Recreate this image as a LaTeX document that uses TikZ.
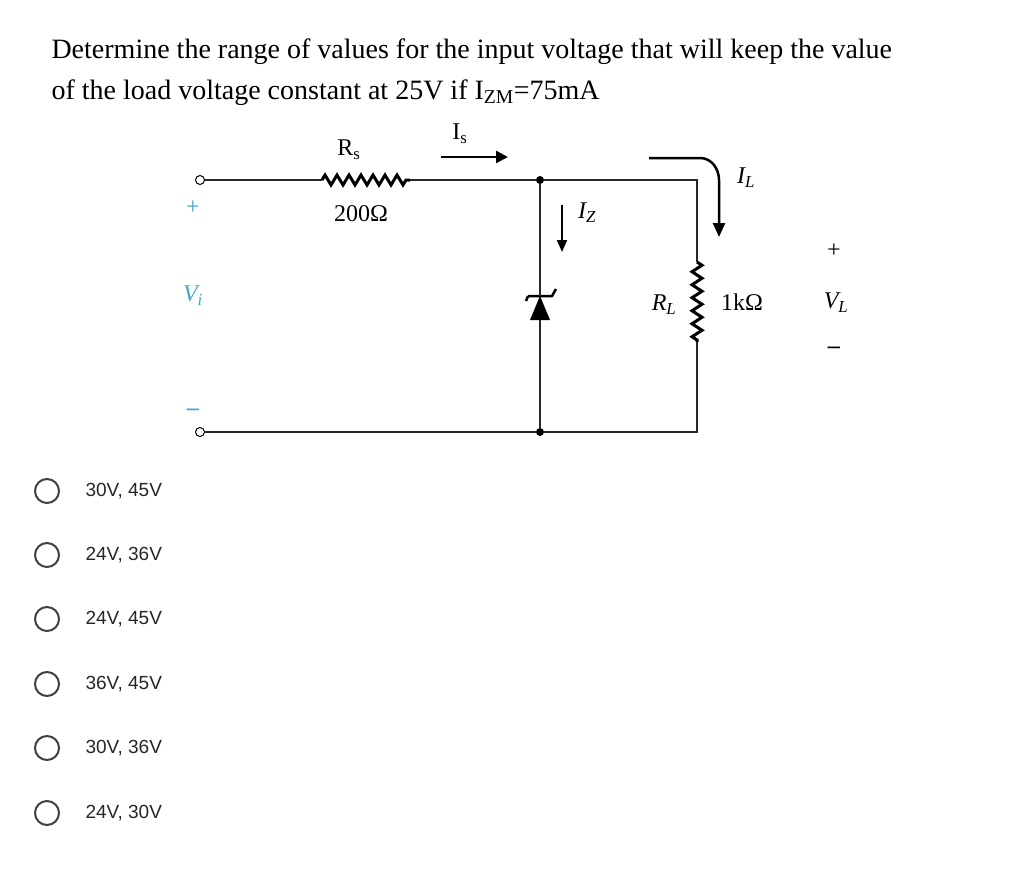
\documentclass[tikz,border=0pt]{standalone}
\usepackage{fontspec}
\setmainfont{Liberation Serif}
\newfontfamily\optfont{Liberation Sans}
\usetikzlibrary{decorations.pathmorphing,arrows.meta}
\definecolor{teal1}{RGB}{60,170,195}
\tikzset{
  wire/.style={line width=1.3pt,color=black!85},
  term/.style={circle,draw,line width=1pt,fill=white,inner sep=0pt,minimum size=9pt},
  dot/.style={circle,fill=black,inner sep=0pt,minimum size=8pt},
  cur/.style={line width=2.5pt,-{Triangle[length=12pt,width=12pt]}},
  radio/.style={circle,draw=black!75,line width=2pt,minimum size=24pt,inner sep=0pt},
  opt/.style={anchor=west,font=\optfont\fontsize{19}{19}\selectfont,text=black!85},
  lbl/.style={font=\fontsize{24}{24}\selectfont},
  zig/.style={line width=3pt,decorate,decoration={zigzag,segment length=12pt,amplitude=5pt}}
}
\begin{document}
\begin{tikzpicture}[x=1pt,y=-1pt]
\useasboundingbox (0,0) rectangle (1024,881);
\node[anchor=base west,font=\fontsize{28}{28}\selectfont] (t1) at (48,58) {Determine the range of values for the input voltage that will keep the value};
\node[anchor=base west,font=\fontsize{28}{28}\selectfont] (t2) at (48,99) {of the load voltage constant at 25V if I\textsubscript{ZM}=75mA};
% circuit
\node[term] (a) at (200,180) {};
\node[term] (b) at (200,432) {};
\node[dot] (n1) at (540,180) {};
\node[dot] (n2) at (540,432) {};
\coordinate (r1) at (322,180);
\coordinate (r2) at (410,180);
\coordinate (tr) at (697,180);
\coordinate (br) at (697,432);
\coordinate (l1) at (697,262);
\coordinate (l2) at (697,342);
\draw[wire] (a) -- (r1);
\draw[zig] (r1) -- (r2);
\draw[wire] (r2) -- (n1) -- (tr) -- (l1);
\draw[zig,decoration={segment length=13pt,amplitude=5pt}] (l1) -- (l2);
\draw[wire] (l2) -- (br) -- (n2) -- (b);
% zener
\coordinate (zt) at (540,282);
\coordinate (zb) at (540,320);
\draw[wire] (n1) -- (zt);
\draw[wire] (zb) -- (n2);
\fill (530,320) -- (550,320) -- (540,296) -- cycle;
\draw[line width=2.5pt] (528,296) -- (552,296) -- (556,289);
\draw[line width=2.5pt] (528,296) -- (526,301);
\draw[wire] (540,296) -- (zt);
% labels
\node[lbl] (rs) at (349,150) {R\textsubscript{s}};
\node[lbl] (rv) at (361,214) {200Ω};
\node[lbl] (is) at (460,134) {I\textsubscript{s}};
\draw[cur] (441,157) -- (508,157);
\draw[line width=2pt,-{Triangle[length=12pt,width=10pt]}] (562,205) -- (562,252);
\node[lbl,font=\itshape\fontsize{24}{24}\selectfont] (iz) at (587,213) {I\textsubscript{Z}};
\draw[line width=2.5pt,-{Triangle[length=14pt,width=12pt]}] (649,158) -- (700,158) to[out=0,in=90] (719,180) -- (719,237);
\node[lbl,font=\itshape\fontsize{24}{24}\selectfont] (il) at (746,178) {I\textsubscript{L}};
\node[lbl,font=\itshape\fontsize{24}{24}\selectfont] (rl) at (664,305) {R\textsubscript{L}};
\node[lbl] (rlv) at (742,302) {1kΩ};
\node[lbl] (vp) at (834,251) {+};
\node[lbl,font=\itshape\fontsize{24}{24}\selectfont] (vl) at (836,303) {V\textsubscript{L}};
\node[lbl] (vm) at (834,350) {\textbf{–}};
\node[lbl,text=teal1] (ip) at (193,208) {+};
\node[lbl,text=teal1,font=\itshape\fontsize{24}{24}\selectfont] (vi) at (193,296) {V\textsubscript{i}};
\node[lbl,text=teal1] (im) at (193,412) {\textbf{–}};
% options
\foreach \y/\t [count=\i] in {491/{30V, 45V},555/{24V, 36V},619/{24V, 45V},684/{36V, 45V},748/{30V, 36V},813/{24V, 30V}}{
  \node[radio] (c\i) at (47,\y) {};
  \node[opt] (o\i) at (82,\y) {\t};
}
\end{tikzpicture}
\end{document}
